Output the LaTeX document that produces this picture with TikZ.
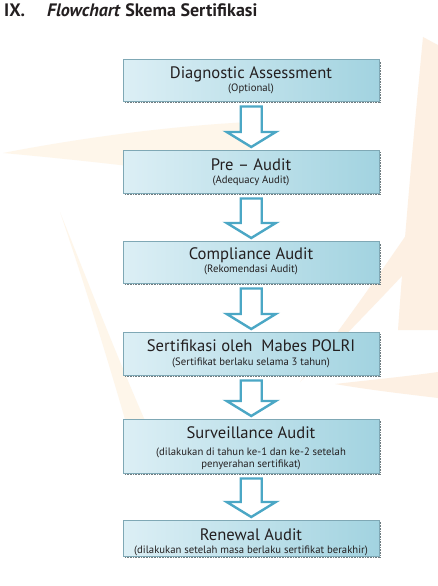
\documentclass[tikz,border=0pt]{standalone}
\usepackage{fontspec}
\setmainfont{PT Sans}
\usetikzlibrary{calc}
\definecolor{arrowblue}{HTML}{4BA7C5}
\definecolor{boxlight}{HTML}{DCEFF5}
\definecolor{boxdark}{HTML}{A2D3E0}
\definecolor{boxedge}{HTML}{7FA8B5}
\definecolor{shadowgray}{HTML}{6F7C80}
\definecolor{txt}{HTML}{231F20}
\definecolor{wmyellow}{HTML}{FEF6EA}
\definecolor{wmorange}{HTML}{FDF0E3}
\definecolor{wmred}{HTML}{FCEBE4}
\newcommand\blockarr[2]{%
  \draw[arrowline] let \p1=(#1.south), \p2=(#2.north) in
    (\x1-10.5pt,\y1-5pt) -- (\x1+10.5pt,\y1-5pt) -- (\x1+10.5pt,\y2+18pt)
    -- (\x1+24.5pt,\y2+18pt) -- (\x1,\y2+3pt) -- (\x1-24.5pt,\y2+18pt)
    -- (\x1-10.5pt,\y2+18pt) -- cycle;}
\newcommand\boxshadow[1]{%
  \draw[shadowline] ($(#1.south west)+(2,1.2)$) -- ($(#1.south east)+(1.2,1.2)$)
    -- ($(#1.north east)+(1.2,2)$);}
\begin{document}
\begin{tikzpicture}[x=1pt,y=-1pt,
  flowbox/.style={draw=boxedge, line width=0.5pt, left color=boxlight, right color=boxdark,
    minimum width=256pt, inner sep=0pt, anchor=north west},
  boxtitle/.style={anchor=base, text=txt, font=\fontsize{16.6}{18}\selectfont, inner sep=0pt},
  boxsub/.style={anchor=base, text=txt, font=\fontsize{10.7}{12}\selectfont, inner sep=0pt},
  arrowline/.style={draw=arrowblue, line width=2.4pt, fill=white, line join=miter},
  shadowline/.style={draw=shadowgray, line width=1.1pt, dash pattern=on 0.8pt off 0.8pt}]
\useasboundingbox (0,0) rectangle (438,586);
\fill[white] (0,0) rectangle (438,586);
% faint background watermark
\fill[wmyellow] (3,153) .. controls (80,138) and (170,126) .. (250,122)
  -- (250,182) .. controls (170,170) and (80,160) .. cycle;
\fill[wmorange] (423,37) .. controls (415,120) and (405,230) .. (398,330)
  -- (438,330) -- (438,45) .. controls (432,42) and (427,39) .. cycle;
\fill[wmorange] (438,188) .. controls (390,260) and (340,330) .. (300,382)
  .. controls (350,330) and (400,280) .. (438,236) -- cycle;
\fill[wmorange] (335,384) .. controls (370,380) and (410,376) .. (438,372)
  -- (438,398) .. controls (405,394) and (370,390) .. cycle;
\fill[wmyellow] (60,212) .. controls (90,300) and (120,400) .. (140,472)
  -- (168,472) .. controls (130,390) and (95,300) .. cycle;
\fill[wmred] (135,455) -- (165,455) -- (172,472) -- (140,472) -- cycle;
% title
\node[anchor=base west, inner sep=0pt, text=txt, font=\fontsize{18}{20}\selectfont\bfseries] (num) at (4,17) {IX.};
\node[anchor=base west, inner sep=0pt, text=txt, font=\fontsize{18}{20}\selectfont\bfseries] (ttl) at (47,17) {\textit{Flowchart} Skema Sertifikasi};
% boxes
\node[flowbox, minimum height=42pt] (b1) at (123,59) {};
\node[flowbox, minimum height=43pt] (b2) at (123,150) {};
\node[flowbox, minimum height=42pt] (b3) at (123,241) {};
\node[flowbox, minimum height=43pt] (b4) at (123,332) {};
\node[flowbox, minimum height=54pt] (b5) at (123,419) {};
\node[flowbox, minimum height=36pt] (b6) at (123,520) {};
\foreach \b in {b1,b2,b3,b4,b5,b6} {\boxshadow{\b}}
% texts
\node[boxtitle] (t1) at (251,78.5) {Diagnostic Assessment};
\node[boxsub] (s1) at (251,92) {(Optional)};
\node[boxtitle] (t2) at (251,170) {Pre – Audit};
\node[boxsub] (s2) at (251,183.5) {(Adequacy Audit)};
\node[boxtitle] (t3) at (251,259.5) {Compliance Audit};
\node[boxsub] (s3) at (251,272) {(Rekomendasi Audit)};
\node[boxtitle] (t4) at (251,351.5) {Sertifikasi oleh~ Mabes POLRI};
\node[boxsub] (s4) at (251,365.5) {(Sertifikat berlaku selama 3 tahun)};
\node[boxtitle] (t5) at (251,438) {Surveillance Audit};
\node[boxsub] (s5a) at (251,455.5) {(dilakukan di tahun ke-1 dan ke-2 setelah};
\node[boxsub] (s5b) at (251,467) {penyerahan sertifikat)};
\node[boxtitle] (t6) at (251,540) {Renewal Audit};
\node[boxsub] (s6) at (251,553) {(dilakukan setelah masa berlaku sertifikat berakhir)};
% arrows
\blockarr{b1}{b2}
\blockarr{b2}{b3}
\blockarr{b3}{b4}
\blockarr{b4}{b5}
\blockarr{b5}{b6}
\end{tikzpicture}
\end{document}
